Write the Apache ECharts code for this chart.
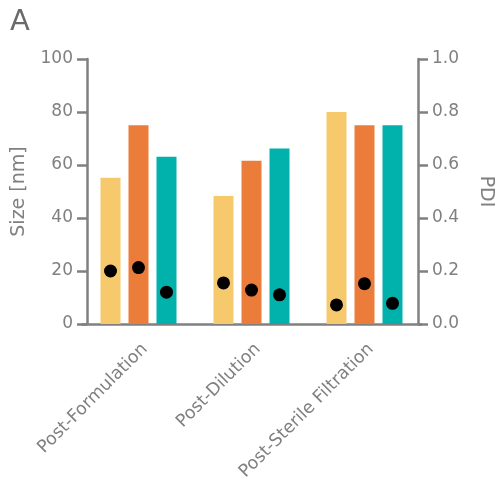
<!DOCTYPE html>
<html lang="en">
<head>
    <meta charset="UTF-8">
    <title>Size and PDI</title>
    <style>
        html, body { margin: 0; padding: 0; background: #fff; }
        #chart { width: 503px; height: 487px; }
    </style>
</head>
<body>
<div id="chart"></div>
<script src="https://cdn.jsdelivr.net/npm/echarts@6/dist/echarts.min.js"></script>
<script>
    // data
    var categories = ['Post-Formulation', 'Post-Dilution', 'Post-Sterile Filtration']
    var sizeA = [55.2, 48.3, 80]
    var sizeB = [75, 61.6, 75]
    var sizeC = [63.1, 66.2, 75]
    var pdiA = [0.20, 0.155, 0.072]
    var pdiB = [0.213, 0.128, 0.152]
    var pdiC = [0.12, 0.11, 0.078]
    var sizeTicks = [0, 20, 40, 60, 80, 100]
    var pdiTicks = [0, 0.2, 0.4, 0.6, 0.8, 1.0]

    var grey = '#808080'
    var font = '"DejaVu Sans", Verdana, sans-serif'
    var colors = ['#F5C96C', '#EC7C3A', '#00B2AB']

    function barSeries(values, color) {
        return {
            type: 'bar',
            data: values,
            barWidth: 20,
            barGap: '40%',
            itemStyle: { color: color },
            z: 2
        }
    }

    function dotSeries(values) {
        return {
            type: 'pictorialBar',
            yAxisIndex: 1,
            data: values,
            barWidth: 20,
            barGap: '40%',
            symbol: 'circle',
            symbolSize: 13,
            symbolPosition: 'end',
            symbolOffset: [0, '-50%'],
            itemStyle: { color: '#000' },
            z: 3
        }
    }

    var chart = echarts.init(document.getElementById('chart'))
    chart.setOption({
        animation: false,
        textStyle: { fontFamily: font },
        title: {
            text: 'A',
            left: 5,
            top: 3,
            textStyle: { fontFamily: font, fontSize: 29, fontWeight: 'normal', color: '#6a6a6a' }
        },
        // category band a little wider than the two y axes, as in the original
        grid: { left: 82, right: 78, top: 59, bottom: 163 },
        xAxis: {
            type: 'category',
            data: categories,
            axisLine: { lineStyle: { color: grey, width: 2.5 } },
            axisTick: { alignWithLabel: true, length: 10, lineStyle: { color: grey, width: 2.5 } },
            axisLabel: { rotate: 45, color: grey, fontSize: 17.5, margin: 16, interval: 0, verticalAlign: 'top' }
        },
        yAxis: [
            {
                type: 'value',
                offset: -5,
                min: sizeTicks[0],
                max: sizeTicks[sizeTicks.length - 1],
                interval: 20,
                name: 'Size [nm]',
                nameLocation: 'middle',
                nameGap: 58,
                nameTextStyle: { color: grey, fontSize: 19 },
                axisLine: { show: true, lineStyle: { color: grey, width: 2.5 } },
                axisTick: { show: true, length: 10, lineStyle: { color: grey, width: 2.5 } },
                axisLabel: { color: grey, fontSize: 17, margin: 14 },
                splitLine: { show: false }
            },
            {
                type: 'value',
                position: 'right',
                offset: -3,
                min: pdiTicks[0],
                max: pdiTicks[pdiTicks.length - 1],
                interval: 0.2,
                name: 'PDI',
                nameLocation: 'middle',
                nameGap: 58,
                nameRotate: -90,
                nameTextStyle: { color: grey, fontSize: 19 },
                axisLine: { show: true, lineStyle: { color: grey, width: 2.5 } },
                axisTick: { show: true, length: 10, lineStyle: { color: grey, width: 2.5 } },
                axisLabel: {
                    color: grey, fontSize: 17, margin: 14,
                    formatter: function (v) { return v.toFixed(1) }
                },
                splitLine: { show: false }
            }
        ],
        series: [
            barSeries(sizeA, colors[0]),
            barSeries(sizeB, colors[1]),
            barSeries(sizeC, colors[2]),
            dotSeries(pdiA),
            dotSeries(pdiB),
            dotSeries(pdiC)
        ]
    })
</script>
</body>
</html>
